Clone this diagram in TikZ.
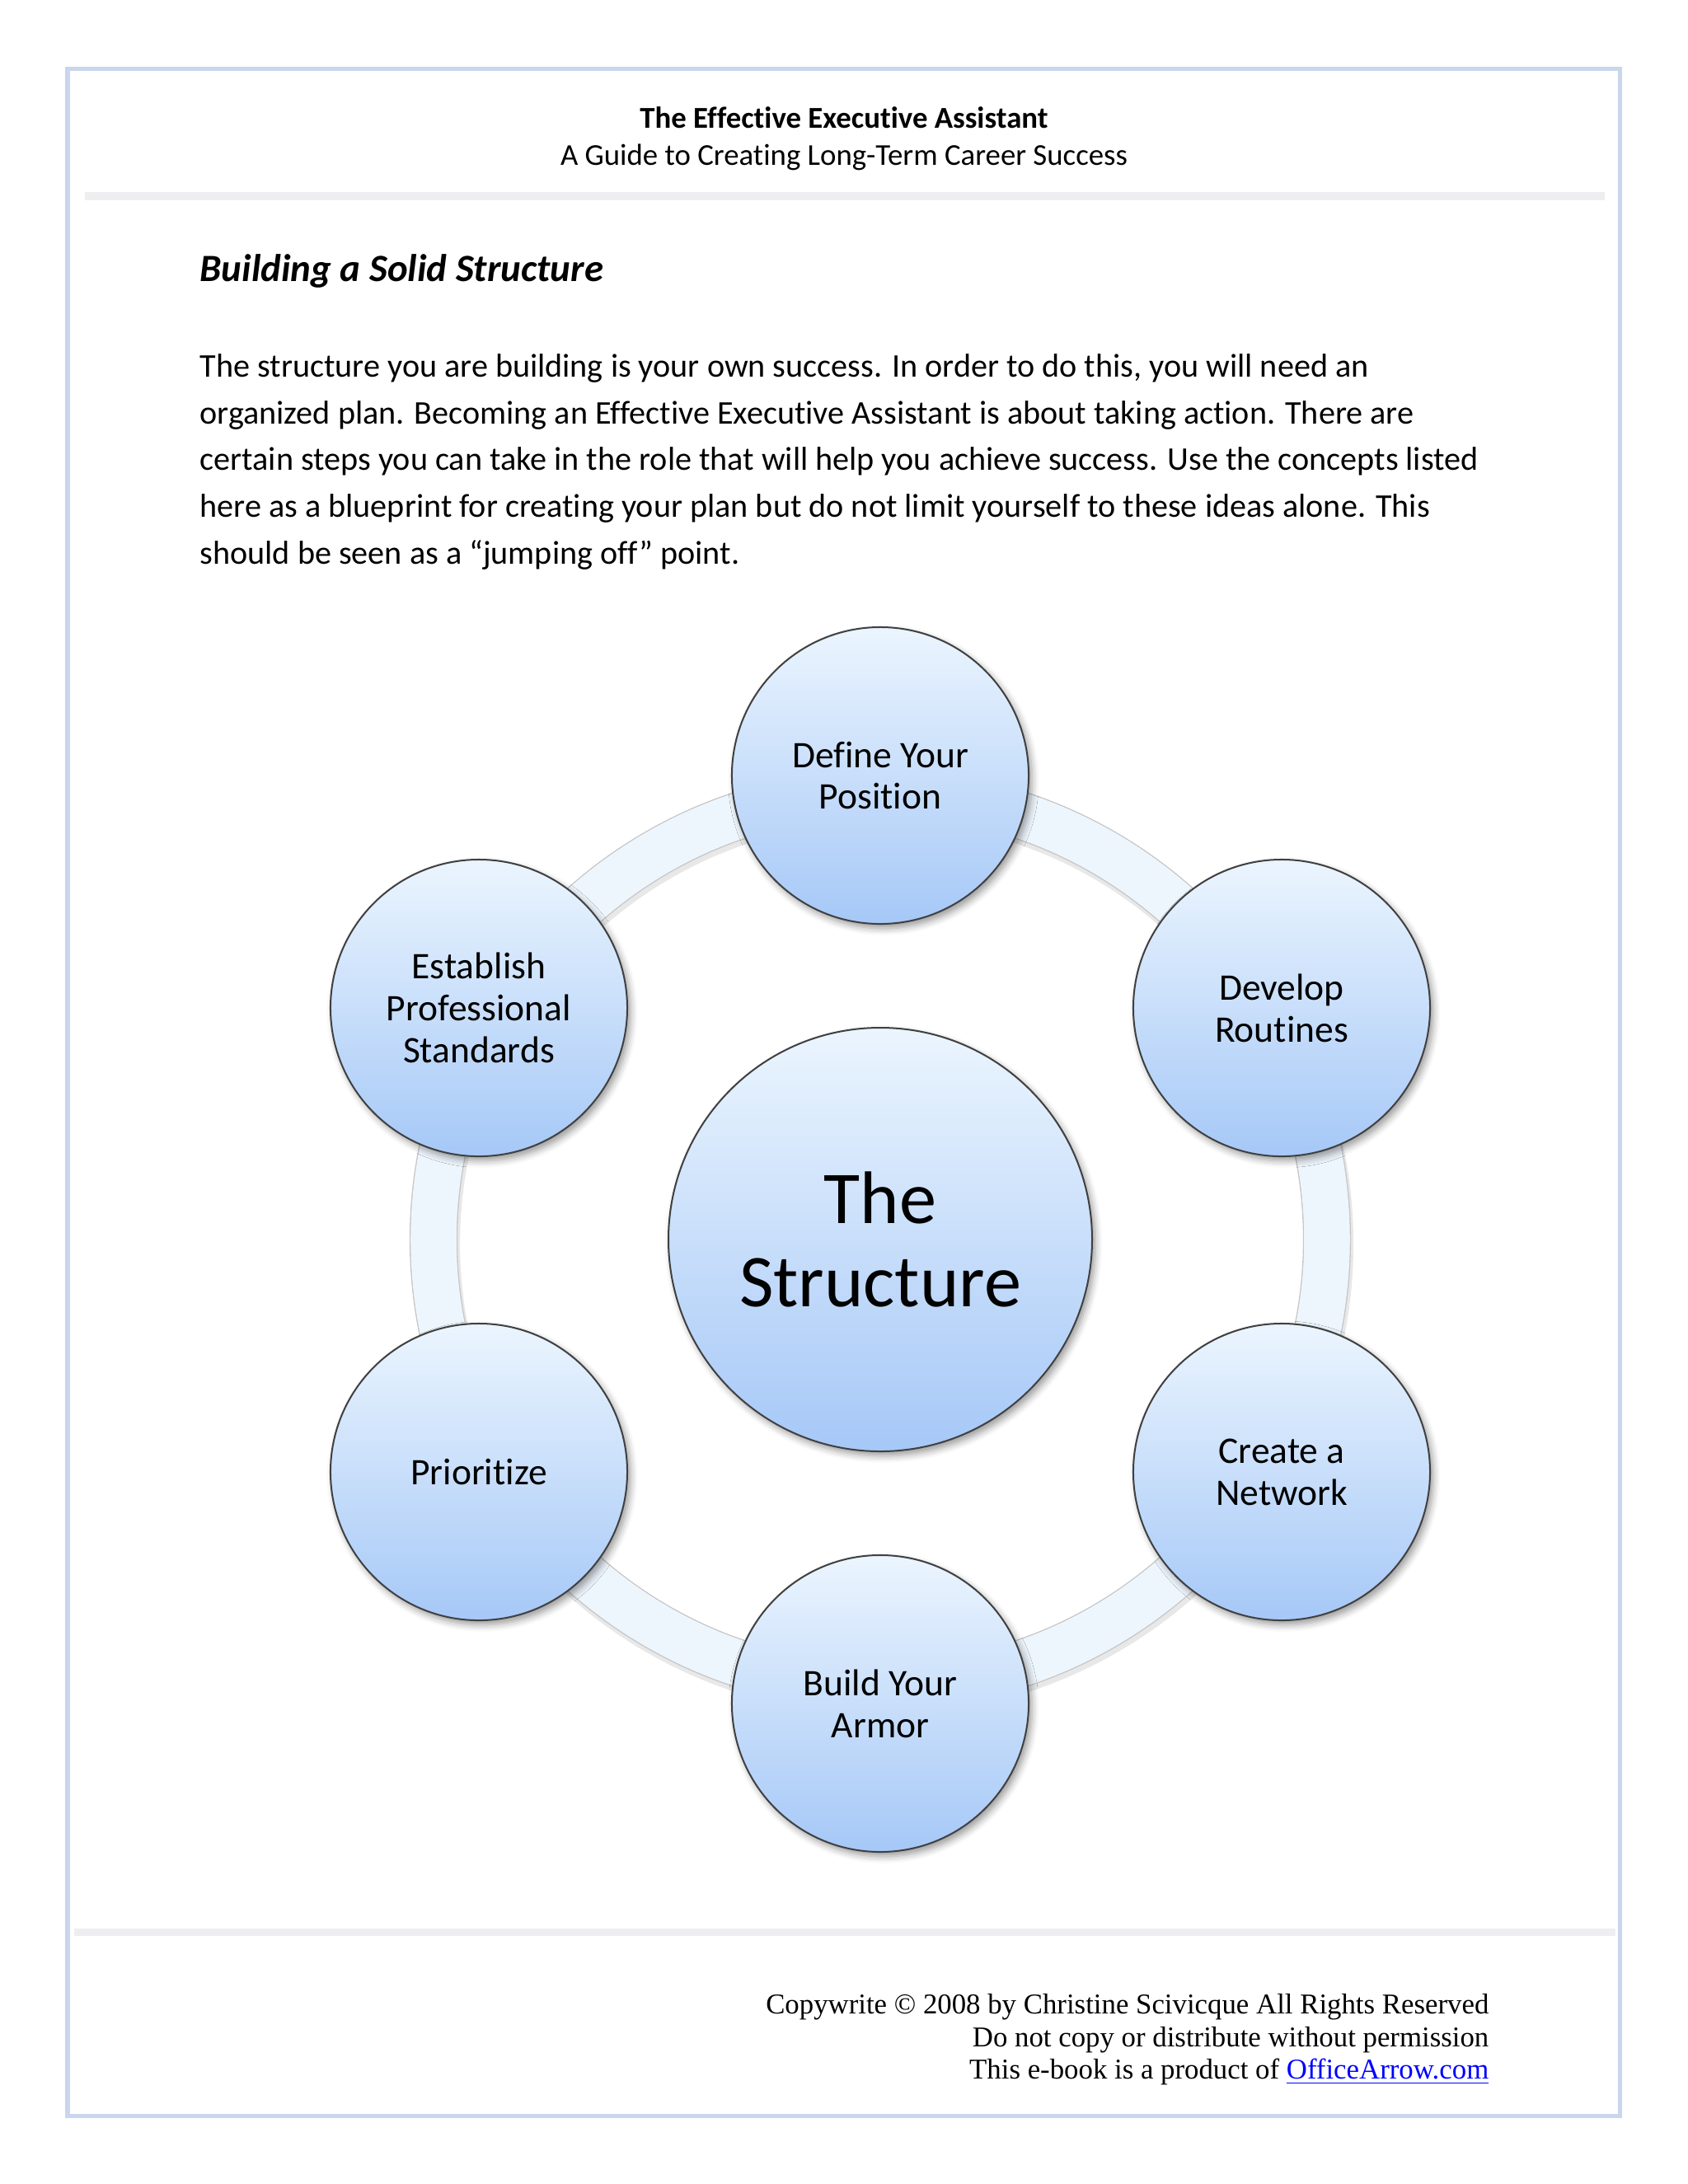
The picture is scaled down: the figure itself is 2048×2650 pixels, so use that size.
\documentclass[tikz,border=0pt]{standalone}
\usepackage{fontspec}
\setmainfont{Carlito}[Ligatures=NoCommon]
\newfontfamily\footfont{Liberation Serif}
\usepackage{tikz}
\usetikzlibrary{positioning, shadows.blur, calc}
\definecolor{pageline}{RGB}{201,214,238}
\definecolor{barfill}{RGB}{238,238,240}
\definecolor{bubtop}{RGB}{235,245,254}
\definecolor{bubbot}{RGB}{166,200,247}
\definecolor{ringfill}{RGB}{238,246,253}
\definecolor{linkblue}{RGB}{0,0,255}

\begin{document}
\begin{tikzpicture}[
    x=0.29883pt, y=0.29883pt,
    bubble/.style={circle, draw=black!75, line width=0.6pt, top color=bubtop, bottom color=bubbot,
        minimum size=107.6pt, inner sep=0pt, align=center, font=\fontsize{13.6}{15.2}\selectfont,
        blur shadow={shadow xshift=1.2pt, shadow yshift=-1.6pt, shadow blur radius=2.5pt, shadow opacity=40}},
    hub/.style={bubble, minimum size=153.6pt, font=\fontsize{27}{30}\selectfont},
    head/.style={font=\fontsize{11}{13}\selectfont, anchor=base, inner sep=0pt},
    body/.style={font=\fontsize{12}{16.9}\selectfont, align=left, anchor=base west, inner sep=0pt},
    foot/.style={font=\footfont\fontsize{10.4}{11.7}\selectfont, anchor=base east, inner sep=0pt}
]
    \useasboundingbox (0,0) rectangle (2048,-2650);

    % 页面边框和分隔条
    \draw[pageline, line width=1.5pt] (82,-83) rectangle (1965,-2567);
    \fill[barfill] (103,-233) rectangle (1947,-243);
    \fill[barfill] (90,-2340) rectangle (1960,-2349);

    % 页眉
    \node[head, font=\fontsize{11}{13}\selectfont\bfseries] (book) at (1024,-155) {The Effective Executive Assistant};
    \node[head] (guide) at (1024,-200) {A Guide to Creating Long-Term Career Success};

    % 正文 (基线在最后一行)
    \node[body, font=\fontsize{14}{17}\selectfont\bfseries\itshape] (heading) at (242,-341) {Building a Solid Structure};
    \node[body] (text) at (242,-684) {The structure you are building is your own success. In order to do this, you will need an\\
        organized plan. Becoming an Effective Executive Assistant is about taking action. There are\\
        certain steps you can take in the role that will help you achieve success. Use the concepts listed\\
        here as a blueprint for creating your plan but do not limit yourself to these ideas alone. This\\
        should be seen as a “jumping off” point.};

    % 外环
    \coordinate (ctr) at (1068,-1504);
    \draw[gray!18, line width=18pt] ($(ctr)+(2,-5)$) circle[radius=542];
    \draw[gray!45, line width=0.4pt, double=ringfill, double distance=16.6pt] (ctr) circle[radius=542];

    % 圆
    \node[hub] (core) at (ctr) {The\\Structure};
    \node[bubble] (define) at (1068,-941) {Define Your\\Position};
    \node[bubble] (routine) at (1555,-1223) {Develop\\Routines};
    \node[bubble] (network) at (1555,-1786) {Create a\\Network};
    \node[bubble] (armor) at (1068,-2067) {Build Your\\Armor};
    \node[bubble] (prior) at (581,-1786) {Prioritize};
    \node[bubble] (standard) at (581,-1223) {Establish\\Professional\\Standards};

    % 页脚
    \node[foot] (copy) at (1807,-2443) {Copywrite © 2008 by Christine Scivicque All Rights Reserved};
    \node[foot] (perm) at (1807,-2483) {Do not copy or distribute without permission};
    \node[foot] (prod) at (1807,-2522) {This e-book is a product of \textcolor{linkblue}{\underline{OfficeArrow.com}}};
\end{tikzpicture}
\end{document}
